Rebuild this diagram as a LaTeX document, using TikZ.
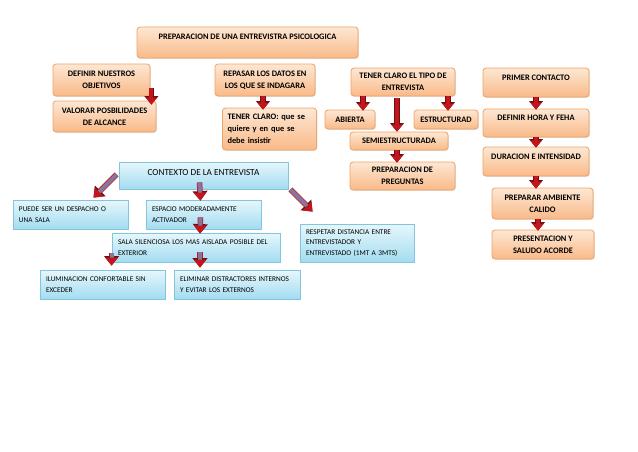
\documentclass[tikz,border=0pt]{standalone}
\usepackage{fontspec}
\setmainfont{Carlito}
\usetikzlibrary{arrows.meta,shadows}

\definecolor{naranjaclaro}{HTML}{FDE7D4}
\definecolor{naranja}{HTML}{F9BA88}
\definecolor{bordenaranja}{HTML}{EFA266}
\definecolor{celesteclaro}{HTML}{E6F7FC}
\definecolor{celeste}{HTML}{A3DCF0}
\definecolor{bordeceleste}{HTML}{84C4DD}
\definecolor{rojo}{HTML}{C3161C}
\definecolor{rojooscuro}{HTML}{6E0F12}
\definecolor{lila}{HTML}{85779F}

\tikzset{
  naranjabox/.style={draw=bordenaranja, line width=0.8pt, rounded corners=3pt,
    top color=naranjaclaro, bottom color=naranja, align=center, inner sep=2pt,
    font=\fontsize{8.4}{12}\selectfont\bfseries,
    drop shadow={opacity=0.25, shadow xshift=0.8pt, shadow yshift=-0.8pt}},
  celestebox/.style={draw=bordeceleste, line width=0.8pt,
    top color=celesteclaro, bottom color=celeste, align=left, inner xsep=6pt,
    font=\fontsize{7.3}{10.5}\selectfont,
    drop shadow={opacity=0.25, shadow xshift=0.8pt, shadow yshift=-0.8pt}},
  toptxt/.style 2 args={inner ysep=0pt, text height=#1, text depth=#2},
  flecha/.style={draw=rojo, line width=4pt, -{Triangle[width=11pt,length=7pt]},
    preaction={draw=rojooscuro, line width=5.5pt, -{Triangle[width=13.5pt,length=8.5pt]}}},
  flechaazul/.style={draw=lila, line width=4pt, -{Triangle[width=12pt,length=8pt,color=rojo]},
    preaction={draw=rojo, line width=5.5pt, -{Triangle[width=14.5pt,length=9.5pt,color=rojooscuro]}}}
}

\begin{document}
\begin{tikzpicture}[x=1pt,y=1pt]
  \path[use as bounding box, fill=white] (0,0) rectangle (638,-451);

  % columna naranja
  \node[naranjabox, minimum width=221pt, toptxt={12.5pt}{18.5pt}] (titulo) at (247.5,-42.5)
    {PREPARACION DE UNA ENTREVISTRA PSICOLOGICA};
  \node[naranjabox, minimum width=97pt, minimum height=32pt] (objetivos) at (101.5,-80)
    {DEFINIR NUESTROS\\OBJETIVOS};
  \node[naranjabox, minimum width=103pt, minimum height=31pt] (alcance) at (104.5,-116.5)
    {VALORAR POSBILIDADES\\DE ALCANCE};
  \node[naranjabox, minimum width=100pt, minimum height=32pt] (repasar) at (265,-80)
    {REPASAR LOS DATOS EN\\LOS QUE SE INDAGARA};
  \node[naranjabox, minimum width=94pt, minimum height=42pt, align=left, text width=84pt,
    inner xsep=5pt] (tener) at (269.5,-129)
    {TENER CLARO: que se\\quiere y en que se\\debe insistir};
  \node[naranjabox, minimum width=104pt, minimum height=28pt] (tipo) at (403,-82)
    {TENER CLARO EL TIPO DE\\ENTREVISTA};
  \node[naranjabox, minimum width=50pt, minimum height=19pt] (abierta) at (350,-119.5) {ABIERTA};
  \node[naranjabox, minimum width=64pt, minimum height=19pt] (estructurad) at (446,-119.5) {ESTRUCTURAD};
  \node[naranjabox, minimum width=98pt, minimum height=18pt] (semi) at (399,-141) {SEMIESTRUCTURADA};
  \node[naranjabox, minimum width=105pt, minimum height=28pt] (preguntas) at (402.5,-176)
    {PREPARACION DE\\PREGUNTAS};
  \node[naranjabox, minimum width=106pt, toptxt={12pt}{17pt}] (primer) at (536,-82.5) {PRIMER CONTACTO};
  \node[naranjabox, minimum width=106pt, toptxt={11.5pt}{16.5pt}] (hora) at (536,-123) {DEFINIR HORA Y FEHA};
  \node[naranjabox, minimum width=106pt, toptxt={12.5pt}{16.5pt}] (duracion) at (536,-161.5)
    {DURACION E INTENSIDAD};
  \node[naranjabox, minimum width=101pt, minimum height=31pt] (ambiente) at (542.5,-203.5)
    {PREPARAR AMBIENTE\\CALIDO};
  \node[naranjabox, minimum width=102pt, minimum height=29pt] (saludo) at (543,-244.5)
    {PRESENTACION Y\\SALUDO ACORDE};

  % contexto
  \node[celestebox, minimum width=169pt, toptxt={13pt}{14pt}, align=center,
    font=\fontsize{9.2}{10}\selectfont] (contexto) at (203.5,-175.5) {CONTEXTO DE LA ENTREVISTA};
  \node[celestebox, minimum width=115pt, minimum height=29pt, text width=103pt] (despacho) at (70.5,-214.5)
    {PUEDE SER UN DESPACHO O\\UNA SALA};
  \node[celestebox, minimum width=115pt, minimum height=29pt, text width=103pt] (espacio) at (203.5,-214.5)
    {ESPACIO MODERADAMENTE\\ACTIVADOR};
  \node[celestebox, minimum width=168pt, minimum height=29pt, text width=156pt] (sala) at (196,-247.5)
    {SALA SILENCIOSA LOS MAS AISLADA POSIBLE DEL\\EXTERIOR};
  \node[celestebox, minimum width=114pt, minimum height=38pt, text width=102pt] (respetar) at (357,-243)
    {RESPETAR DISTANCIA ENTRE\\ENTREVISTADOR Y\\ENTREVISTADO (1MT A 3MTS)};
  \node[celestebox, minimum width=125pt, minimum height=29pt, text width=113pt] (iluminacion) at (102.5,-284.5)
    {ILUMINACION CONFORTABLE SIN\\EXCEDER};
  \node[celestebox, minimum width=126pt, minimum height=29pt, text width=114pt] (eliminar) at (237,-284.5)
    {ELIMINAR DISTRACTORES INTERNOS\\Y EVITAR LOS EXTERNOS};

  % flechas
  \draw[flecha] ([xshift=1pt,yshift=8pt]objetivos.south east) -- ([xshift=-5pt,yshift=-4pt]alcance.north east);
  \draw[flecha] ([xshift=-2pt]repasar.south) -- ([xshift=-6.5pt,yshift=-2pt]tener.north);
  \draw[flecha] ([xshift=-40pt]tipo.south) -- ([xshift=13pt,yshift=-1pt]abierta.north);
  \draw[flecha] ([xshift=-6pt,yshift=-2pt]tipo.south) -- ([xshift=-2pt]semi.north);
  \draw[flecha] ([xshift=45pt]tipo.south) -- ([xshift=2pt,yshift=-1pt]estructurad.north);
  \draw[flecha] ([xshift=-2pt]semi.south) -- ([xshift=-5.5pt,yshift=-1pt]preguntas.north);
  \draw[flecha] (primer.south) -- ([yshift=-1pt]hora.north);
  \draw[flecha] (hora.south) -- ([yshift=-1pt]duracion.north);
  \draw[flecha] (duracion.south) -- ([xshift=-6.5pt,yshift=-1pt]ambiente.north);
  \draw[flecha] ([xshift=-4.5pt]ambiente.south) -- ([xshift=-5pt,yshift=-1pt]saludo.north);

  \draw[flechaazul] ([xshift=-2pt,yshift=1pt]contexto.west) -- ([xshift=23pt,yshift=2pt]despacho.north);
  \draw[flechaazul] ([xshift=-4pt,yshift=7pt]contexto.south) -- ([xshift=-3pt,yshift=-1pt]espacio.north);
  \draw[flechaazul] ([xshift=2pt]contexto.south east) -- ([xshift=13pt,yshift=12pt]respetar.north west);
  \draw[flechaazul] ([xshift=-3pt,yshift=12pt]espacio.south) -- ([xshift=4pt,yshift=-1pt]sala.north);
  \draw[flechaazul] ([yshift=9pt]sala.south west) -- ([xshift=72pt,yshift=4pt]iluminacion.north west);
  \draw[flechaazul] ([xshift=4pt,yshift=10pt]sala.south) -- ([xshift=-37pt,yshift=2pt]eliminar.north);
\end{tikzpicture}
\end{document}
